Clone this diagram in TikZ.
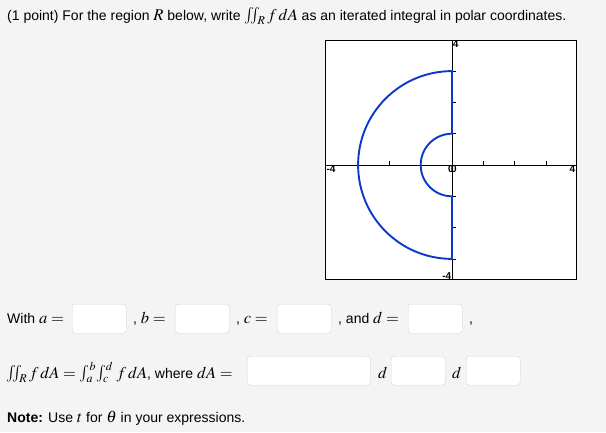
\documentclass[tikz,border=0pt]{standalone}
\usepackage{amsmath,amssymb}
\usepackage{mathptmx}
\usepackage{fontspec}
\setmainfont{Liberation Sans}
\usetikzlibrary{positioning}
\DeclareMathSizes{14}{16.5}{12}{10}

\definecolor{pagebg}{RGB}{244,244,244}
\definecolor{curveblue}{RGB}{12,58,200}
\definecolor{boxedge}{RGB}{212,212,212}

\begin{document}
\begin{tikzpicture}[x=1pt, y=-1pt, font=\fontsize{14}{16}\selectfont,
    txt/.style={inner sep=0pt, anchor=base west},
    ansbox/.style={draw=boxedge, fill=white, rounded corners=3pt, minimum height=29pt, inner sep=0pt, anchor=north west},
    ticklbl/.style={inner sep=0.6pt, font=\bfseries\fontsize{10}{11}\selectfont}]
    \fill[pagebg] (0,0) rectangle (606,432);
    \useasboundingbox (0,0) rectangle (606,432);

    % question line
    \node[txt] (title) at (7,20) {(1 point) For the region $R$ below, write $\iint_R f\,dA$ as an iterated integral in polar coordinates.};

    % the region R
    \begin{scope}[shift={(452,165)}, x=31.3pt, y=31.3pt]
      \draw[line width=0.8pt, fill=white] (-4.03,-3.67) rectangle (3.96,3.99);
      \coordinate (xmin) at (-4.03,0);
      \coordinate (xmax) at (3.96,0);
      \coordinate (ymin) at (0,-3.67);
      \coordinate (ymax) at (0,3.99);
      \draw[line width=0.8pt] (xmin) -- (xmax);
      \draw[line width=0.8pt] (ymin) -- (ymax);
      \foreach \t in {-3,-2,-1,1,2,3} {
        \draw[line width=0.8pt] (\t,0) -- (\t,0.13);
        \draw[line width=0.8pt] (0,\t) -- (0.13,\t);
      }
      \draw[curveblue, line width=1.9pt] (0,3) arc[start angle=90, end angle=270, radius=3]
        -- (0,-1) arc[start angle=270, end angle=90, radius=1] -- cycle;
      \node[ticklbl, anchor=north west] (ytop) at (ymax) {4};
      \node[ticklbl, anchor=south east] (ybot) at (ymin) {-4};
      \node[ticklbl, anchor=north west] (xleft) at (xmin) {-4};
      \node[ticklbl, anchor=north east] (xright) at (xmax) {4};
      \node[ticklbl, anchor=north, xshift=-1.2pt] (xzero) at (0,0) {0};
      \node[ticklbl, anchor=north, xshift=1.8pt] (yzero) at (0,0) {0};
    \end{scope}

    % limits a, b, c, d
    \node[txt] (lbla) at (7,323) {With $a =$};
    \node[ansbox, minimum width=54pt] (boxa) at (72,304) {};
    \node[txt] (lblb) at (133,323) {, $b =$};
    \node[ansbox, minimum width=54pt] (boxb) at (175,304) {};
    \node[txt] (lblc) at (236,323) {, $c =$};
    \node[ansbox, minimum width=54pt] (boxc) at (277,304) {};
    \node[txt] (lbld) at (338,323) {, and $d =$};
    \node[ansbox, minimum width=54pt] (boxd) at (408,304) {};
    \node[txt] (endcomma) at (469,323) {,};

    % iterated integral and area element
    \node[txt] (iter) at (6,378) {$\iint_R f\,dA = \int_a^b\!\int_c^d\, f\,dA$, where $dA =$};
    \node[ansbox, minimum width=123pt] (boxarea) at (247,356) {};
    \node[txt] (dfirst) at (378,378) {$d$};
    \node[ansbox, minimum width=54pt] (boxvar1) at (391,356) {};
    \node[txt] (dsecond) at (452,378) {$d$};
    \node[ansbox, minimum width=54pt] (boxvar2) at (466,356) {};

    \node[txt] (note) at (7,422) {\textbf{Note:} Use $t$ for $\theta$ in your expressions.};
\end{tikzpicture}
\end{document}
